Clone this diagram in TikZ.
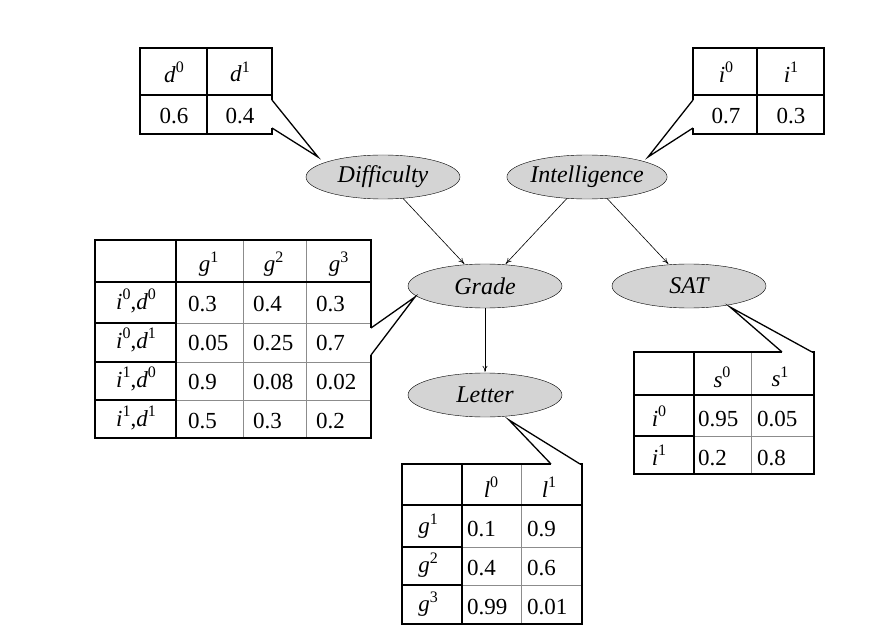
\documentclass[tikz,border=0pt]{standalone}
\usepackage{fontspec}
\setmainfont{Liberation Serif}
\usetikzlibrary{shapes.geometric,arrows.meta}
\newcommand{\vv}[2]{\textit{#1}\raisebox{0.42em}{\fontsize{16}{18}\selectfont#2}}
\tikzset{
  var/.style={ellipse,draw=black,fill=black!17,minimum width=154pt,minimum height=44pt,inner sep=0pt,font=\fontsize{24}{28}\selectfont\itshape},
  cell/.style={font=\fontsize{23}{27}\selectfont,inner sep=0pt},
  thin grid/.style={draw=black!45,line width=0.6pt},
  thick grid/.style={draw=black,line width=1.6pt},
  callout/.style={draw=black,line width=1.3pt},
  gap/.style={draw=white,line width=2.4pt},
  edge/.style={-{To[length=6pt,width=5pt]},line width=0.6pt,shorten >=1pt}
}
\begin{document}
\begin{tikzpicture}[x=1pt,y=-1pt]
        \useasboundingbox (0,0) rectangle (878,644);
        % Draw the variables
        \node[var] (diff) at (383,177) {Difficulty};
        \node[var] (intel) at (587,177) {Intelligence};
        \node[var] (grade) at (485,286) {Grade};
        \node[var] (sat) at (689,286) {SAT};
        \node[var] (letter) at (485,395) {Letter};
        \draw[edge] (diff) -- (grade);
        \draw[edge] (intel) -- (grade);
        \draw[edge] (intel) -- (sat);
        \draw[edge] (grade) -- (letter);
        % Difficulty table
        \draw[thick grid] (140,48) rectangle (272,134) (207,48) -- (207,134) (140,95) -- (272,95);
        \node[cell] (d0) at (174,72) {\vv{d}{0}};
        \node[cell] (d1) at (240,72) {\vv{d}{1}};
        \node[cell] (pd0) at (174,116) {0.6};
        \node[cell] (pd1) at (240,116) {0.4};
        \coordinate (dA) at (272,100);
        \coordinate (dB) at (272,128);
        \coordinate (dT) at (318,157);
        \draw[gap] (dA) -- (dB);
        \draw[callout] (dA) -- (dT) -- (dB);
        % Intelligence table
        \draw[thick grid] (693,48) rectangle (824,134) (757,48) -- (757,134) (693,95) -- (824,95);
        \node[cell] (i0) at (726,72) {\vv{i}{0}};
        \node[cell] (i1) at (791,72) {\vv{i}{1}};
        \node[cell] (pi0) at (726,116) {0.7};
        \node[cell] (pi1) at (791,116) {0.3};
        \coordinate (iA) at (693,100);
        \coordinate (iB) at (693,128);
        \coordinate (iT) at (648,157);
        \draw[gap] (iA) -- (iB);
        \draw[callout] (iA) -- (iT) -- (iB);
        % Grade table
        \foreach \y in {323,362,400}
        \draw[thin grid] (176,\y) -- (371,\y);
        \foreach \x in {243,306}
        \draw[thin grid] (\x,240) -- (\x,438);
        \foreach \y in {323,362,400}
        \draw[thick grid] (95,\y) -- (176,\y);
        \draw[thick grid] (95,240) rectangle (371,438) (176,240) -- (176,438) (95,282) -- (371,282);
        \foreach \t [count=\i] in {1,2,3}
        \node[cell] at ({176+(\i-0.5)*65},264) {\vv{g}{\t}};
        \foreach \p/\q/\a/\b/\c [count=\j] in {0/0/0.3/0.4/0.3,0/1/0.05/0.25/0.7,1/0/0.9/0.08/0.02,1/1/0.5/0.3/0.2}
        {
        \node[cell] at (136,{262+\j*39}) {\vv{i}{\p},\vv{d}{\q}};
        \node[cell,anchor=west] at (188,{265+\j*39}) {\a};
        \node[cell,anchor=west] at (253,{265+\j*39}) {\b};
        \node[cell,anchor=west] at (316,{265+\j*39}) {\c};
        }
        \coordinate (gA) at (371,328);
        \coordinate (gB) at (371,355);
        \coordinate (gT) at (415,297);
        \draw[gap] (gA) -- (gB);
        \draw[callout] (gA) -- (gT) -- (gB);
        % SAT table
        \draw[thin grid] (694,436) -- (814,436) (751,352) -- (751,474);
        \draw[thick grid] (634,436) -- (694,436);
        \draw[thick grid] (634,352) rectangle (814,474) (694,352) -- (694,474) (634,395) -- (814,395);
        \node[cell] at (722,377) {\vv{s}{0}};
        \node[cell] at (780,377) {\vv{s}{1}};
        \node[cell] at (659,416) {\vv{i}{0}};
        \node[cell] at (659,455) {\vv{i}{1}};
        \node[cell,anchor=west] at (698,419) {0.95};
        \node[cell,anchor=west] at (757,419) {0.05};
        \node[cell,anchor=west] at (698,458) {0.2};
        \node[cell,anchor=west] at (757,458) {0.8};
        \coordinate (sA) at (782,352);
        \coordinate (sB) at (812,352);
        \coordinate (sT) at (730,307);
        \draw[gap] (sA) -- (sB);
        \draw[callout] (sA) -- (sT) -- (sB);
        % Letter table
        \draw[thin grid] (462,547) -- (582,547) (462,585) -- (582,585) (521,464) -- (521,624);
        \draw[thick grid] (402,547) -- (462,547) (402,585) -- (462,585);
        \draw[thick grid] (402,464) rectangle (582,624) (462,464) -- (462,624) (402,505) -- (582,505);
        \node[cell] at (491,487) {\vv{l}{0}};
        \node[cell] at (549,487) {\vv{l}{1}};
        \foreach \g/\a/\b [count=\j] in {1/0.1/0.9,2/0.4/0.6,3/0.99/0.01}
        {
        \node[cell] at (428,{487+\j*39}) {\vv{g}{\g}};
        \node[cell,anchor=west] at (467,{490+\j*39}) {\a};
        \node[cell,anchor=west] at (527,{490+\j*39}) {\b};
        }
        \coordinate (lA) at (551,464);
        \coordinate (lB) at (580,464);
        \coordinate (lT) at (509,420);
        \draw[gap] (lA) -- (lB);
        \draw[callout] (lA) -- (lT) -- (lB);
    \end{tikzpicture}
\end{document}
